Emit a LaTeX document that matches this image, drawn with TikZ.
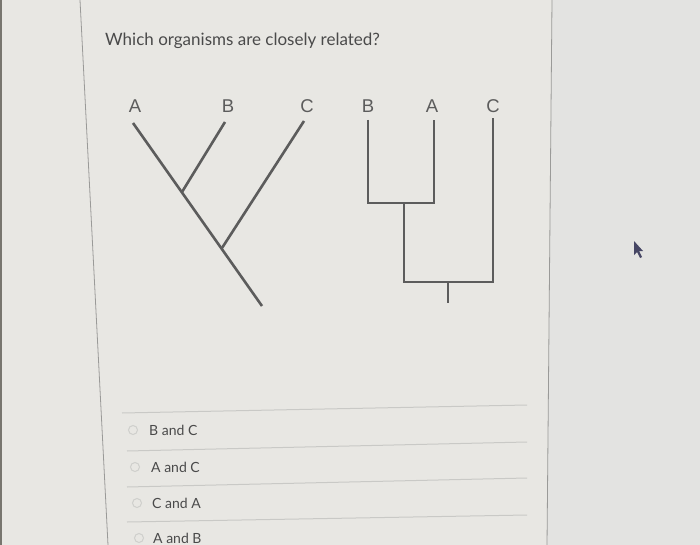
\documentclass[tikz,border=0pt]{standalone}
\usepackage{fontspec}
\setmainfont{Lato}
\newfontfamily\labfont{Liberation Sans}
\definecolor{bgc}{HTML}{E8E7E3}
\definecolor{bgr}{HTML}{E3E3E1}
\definecolor{treec}{HTML}{5C5C5C}
\definecolor{txtc}{HTML}{4A4A4A}
\definecolor{sepc}{HTML}{C9C9C6}
\definecolor{edgec}{HTML}{9A9A98}
\definecolor{radioc}{HTML}{CFCFCC}
\definecolor{darkedge}{HTML}{78766F}
\definecolor{cursorc}{HTML}{464664}
\tikzset{
  branch/.style={draw=treec, line width=2.6pt, line cap=butt},
  leaf/.style={font=\labfont\fontsize{18.5}{18.5}\selectfont, text=treec, inner sep=0pt},
  optline/.style={draw=sepc, line width=1pt},
  opttext/.style={font=\fontsize{14}{14}\selectfont, text=txtc, inner sep=0pt, anchor=west},
  radio/.style={circle, draw=radioc, line width=1pt, minimum size=9pt, inner sep=0pt},
}
\begin{document}
\begin{tikzpicture}[x=1pt,y=-1pt]
\useasboundingbox (0,0) rectangle (700,545);
\fill[bgc] (0,0) rectangle (700,545);
\fill[bgr] (552,0) -- (700,0) -- (700,545) -- (547,545) -- cycle;
\draw[edgec, line width=0.8pt] (80,0) -- (108,545);
\draw[edgec, line width=0.8pt] (552,0) -- (547,545);
\fill[darkedge] (0,0) rectangle (1.5,545);

% title
\node[anchor=base west, inner sep=0pt, text=txtc, font=\fontsize{17}{18}\selectfont] (title) at (105,46) {Which organisms are closely related?};

% left tree
\node[leaf] (lA) at (135,106) {A};
\node[leaf] (lB) at (228,106) {B};
\node[leaf] (lC) at (307,106) {C};
\coordinate (tA) at (133,123);
\coordinate (tB) at (225,122);
\coordinate (tC) at (304,121);
\coordinate (jB) at (182,192);
\coordinate (jC) at (222,248);
\coordinate (root1) at (262,306);
\draw[branch] (tA) -- (root1);
\draw[branch] (tB) -- (jB);
\draw[branch] (tC) -- (jC);

% right tree
\node[leaf] (rB) at (368,106) {B};
\node[leaf] (rA) at (432,106) {A};
\node[leaf] (rC) at (493,106) {C};
\coordinate (uB) at (368,120);
\coordinate (uA) at (434,120);
\coordinate (uC) at (493,118);
\coordinate (hBA) at (404,203);
\coordinate (hRoot) at (448,282);
\coordinate (root2) at (448,303);
\draw[branch] (uB) -- (368,203) -- (434,203) -- (uA);
\draw[branch] (hBA) -- (404,282) -- (493,282) -- (uC);
\draw[branch, line width=2.2pt] (hRoot) -- (root2);

% options
\draw[optline] (122,413) -- (527,405);
\draw[optline] (127,451) -- (527,442);
\draw[optline] (127,487) -- (527,478);
\draw[optline] (127,522) -- (527,515);

\node[radio] (r1) at (133,430) {};
\node[radio] (r2) at (135,467) {};
\node[radio] (r3) at (137,503) {};
\node[radio] (r4) at (139,538) {};
\node[opttext] (o1) at (149,430) {B and C};
\node[opttext] (o2) at (151,467) {A and C};
\node[opttext] (o3) at (152,503) {C and A};
\node[opttext] (o4) at (153,538) {A and B};

% cursor
\fill[cursorc] (634,241) -- (634,255) -- (637,252) -- (640,258) -- (642,257) -- (639,251) -- (643,251) -- cycle;
\end{tikzpicture}
\end{document}
